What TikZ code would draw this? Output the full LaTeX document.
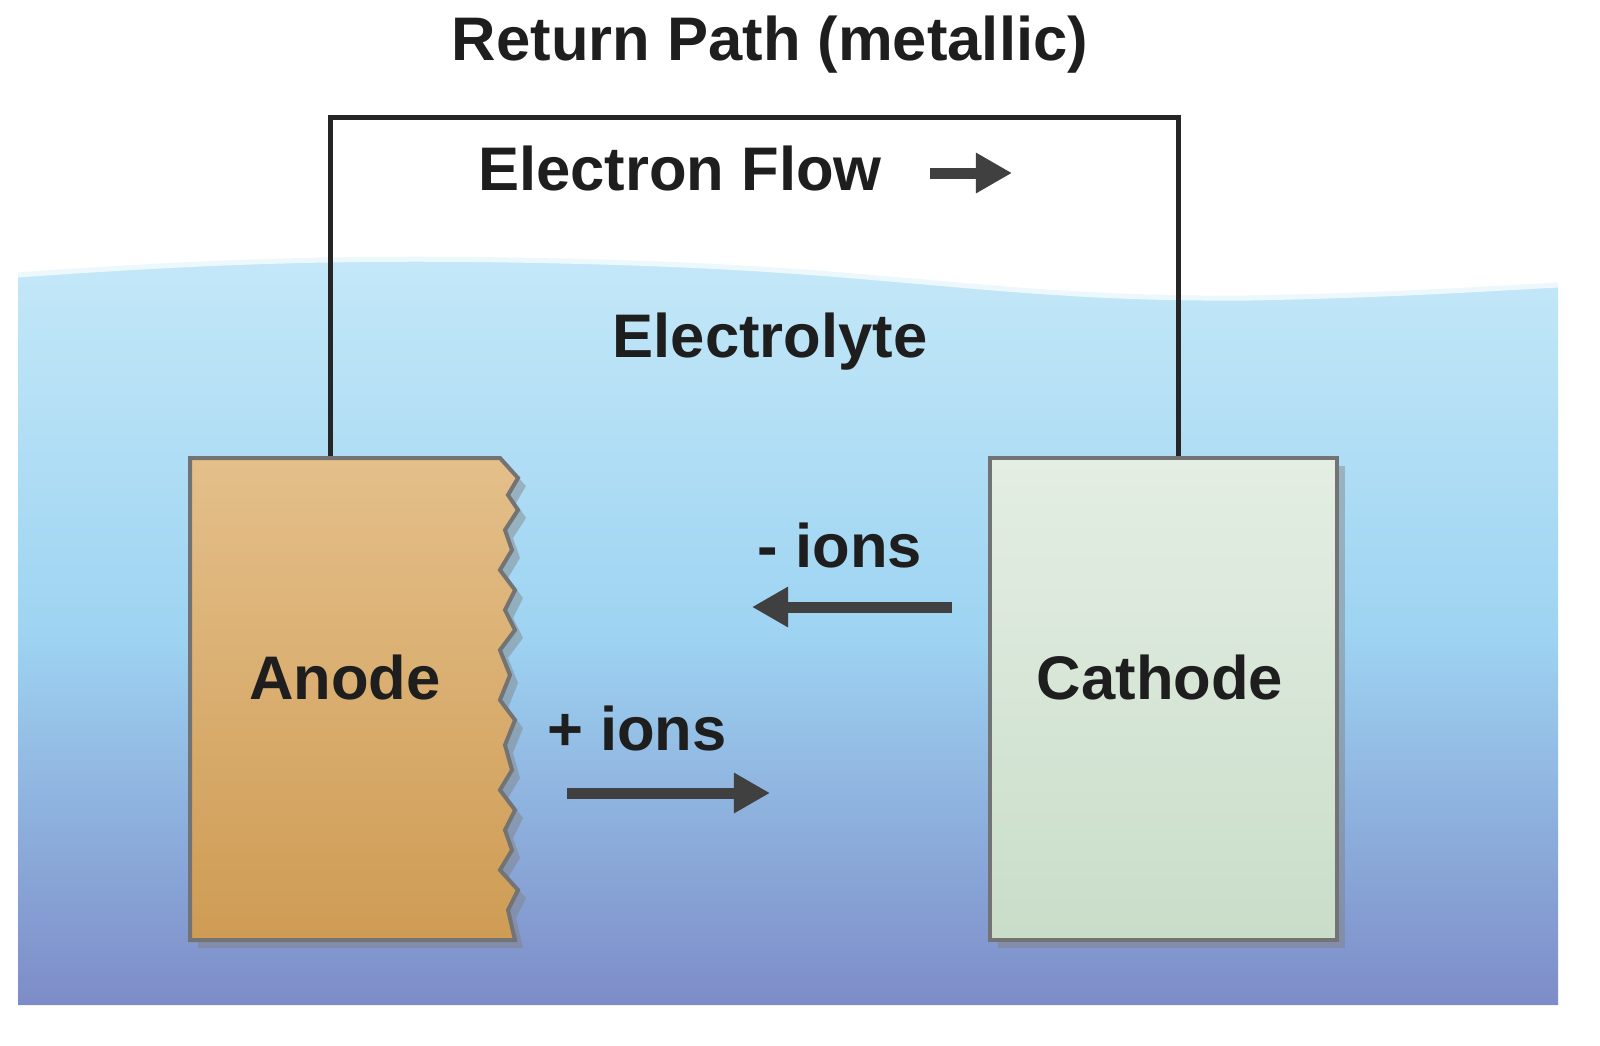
\documentclass[tikz,border=0pt]{standalone}
\usepackage{fontspec}
\setmainfont{Liberation Sans}
\usetikzlibrary{arrows.meta,shadows}
\definecolor{wtop}{HTML}{C4E8F8}
\definecolor{wmid}{HTML}{9ED4F2}
\definecolor{wbot}{HTML}{7D8CC8}
\definecolor{anod}{HTML}{D9A458}
\definecolor{cath}{HTML}{C9DDC9}
\definecolor{txt}{HTML}{1E1E1E}
\tikzset{
 lbl/.style={font=\bfseries\fontsize{17.5}{20}\selectfont, text=txt},
 flow/.style={line width=1.1mm, draw=txt!85, -{Triangle[length=3.6mm,width=3.8mm]}},
 wire/.style={line width=0.5mm, draw=black!85},
 plate/.style={draw=black!55, line width=0.4mm, drop shadow={opacity=0.45,shadow xshift=0.8mm,shadow yshift=-0.8mm}}
}
\begin{document}
\begin{tikzpicture}[x=0.01cm,y=-0.01cm]
\useasboundingbox (0,0) rectangle (1600,1045);
\fill[white] (0,0) rectangle (1600,1045);
% water
\shade[top color=wtop, bottom color=wbot, middle color=wmid]
 (18,275) .. controls (200,262) and (350,255) .. (600,262)
 .. controls (900,270) and (1000,300) .. (1250,298)
 .. controls (1400,295) and (1500,288) .. (1558,285)
 -- (1558,1005) -- (18,1005) -- cycle;
\draw[white!70!wtop, line width=0.5mm] (18,275) .. controls (200,262) and (350,255) .. (600,262)
 .. controls (900,270) and (1000,300) .. (1250,298)
 .. controls (1400,295) and (1500,288) .. (1558,285);
% wire
\coordinate (wa) at (330,460);
\coordinate (wb) at (1178,460);
\draw[wire] (wa) |- (754,117) -| (wb);
% anode
\path[plate, top color=anod!70!white, bottom color=anod!95!black]
 (190,458) -- (500,458) -- (518,478) -- (508,495) -- (518,510) -- (505,530) -- (512,550)
 -- (500,570) -- (515,590) -- (505,610) -- (515,630) -- (500,650) -- (510,675) -- (500,700)
 -- (515,720) -- (505,745) -- (512,770) -- (500,790) -- (515,810) -- (505,830) -- (512,850)
 -- (500,870) -- (518,890) -- (508,910) -- (515,940) -- (190,940) -- cycle;
\node[lbl] (anode) at (345,677) {Anode};
% cathode
\path[plate, top color=cath!50!white, bottom color=cath] (990,458) rectangle (1337,940);
\node[lbl] (cathode) at (1160,677) {Cathode};
% labels
\node[lbl] (ret) at (770,45) {Return Path (metallic)};
\node[lbl] (ef) at (680,168) {Electron Flow};
\coordinate (e1) at (930,173); \coordinate (e2) at (1012,173);
\draw[flow] (e1) -- (e2);
\node[lbl] (ely) at (770,342) {Electrolyte};
\node[lbl] (neg) at (840,545) {- ions};
\coordinate (n1) at (952,607); \coordinate (n2) at (752,607);
\draw[flow] (n1) -- (n2);
\node[lbl] (pos) at (637,728) {+ ions};
\coordinate (p1) at (567,793); \coordinate (p2) at (770,793);
\draw[flow] (p1) -- (p2);
\end{tikzpicture}
\end{document}
